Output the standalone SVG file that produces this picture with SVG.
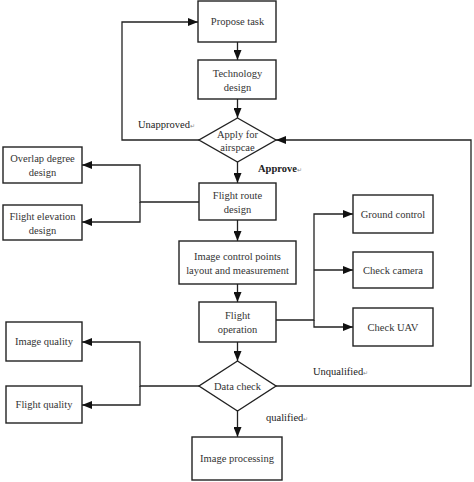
<svg xmlns="http://www.w3.org/2000/svg" width="474" height="482" viewBox="0 0 474 482">
<defs>
<marker id="ah" viewBox="0 0 10 8" refX="10" refY="4" markerWidth="10" markerHeight="8" markerUnits="userSpaceOnUse" orient="auto">
<path d="M0,0 L10,4 L0,8 Z" fill="#111"/>
</marker>
<style>
.box{fill:#fff;stroke:#222;stroke-width:1.4}
.t{font-family:"Liberation Serif","Times New Roman",serif;font-size:10.5px;fill:#333;text-anchor:middle}
.l{font-family:"Liberation Serif","Times New Roman",serif;font-size:10.5px;fill:#222}
.pm{font-size:6px;fill:#888}
.c{fill:none;stroke:#222;stroke-width:1.3}
</style>
</defs>
<rect width="474" height="482" fill="#fff"/>
<g id="connectors">
<path class="c" d="M237.5,42 V60" marker-end="url(#ah)"/>
<path class="c" d="M237.5,99 V118" marker-end="url(#ah)"/>
<path class="c" d="M199,140 H122 V22 H198" marker-end="url(#ah)"/>
<path class="c" d="M237.5,162 V183" marker-end="url(#ah)"/>
<path class="c" d="M199,202 H140 V165 H82" marker-end="url(#ah)"/>
<path class="c" d="M140,202 V222 H82" marker-end="url(#ah)"/>
<path class="c" d="M237.5,220 V241" marker-end="url(#ah)"/>
<path class="c" d="M237.5,284 V302" marker-end="url(#ah)"/>
<path class="c" d="M276,320 H314 V214 H353" marker-end="url(#ah)"/>
<path class="c" d="M314,270 H353" marker-end="url(#ah)"/>
<path class="c" d="M314,320 V327 H353" marker-end="url(#ah)"/>
<path class="c" d="M237.5,342 V361" marker-end="url(#ah)"/>
<path class="c" d="M276,386 H471 V140 H276" marker-end="url(#ah)"/>
<path class="c" d="M199,386 H140 V342 H82" marker-end="url(#ah)"/>
<path class="c" d="M140,386 V405 H82" marker-end="url(#ah)"/>
<path class="c" d="M237.5,411 V437" marker-end="url(#ah)"/>
<text class="l" x="138" y="128">Unapproved<tspan class="pm">↵</tspan></text>
<text class="l" x="258" y="172" font-weight="bold">Approve<tspan class="pm" font-weight="normal">↵</tspan></text>
<text class="l" x="313" y="375">Unqualified<tspan class="pm">↵</tspan></text>
<text class="l" x="266" y="421">qualified<tspan class="pm">↵</tspan></text>
</g>
<g id="propose"><rect class="box" x="198" y="1" width="78" height="41"/><text class="t" x="237.5" y="25">Propose task</text></g>
<g id="technology"><rect class="box" x="198" y="60" width="78" height="39"/><text class="t" x="237.5" y="77">Technology</text><text class="t" x="237.5" y="91">design</text></g>
<g id="apply"><polygon class="box" points="237.5,118 276,140 237.5,162 199,140"/><text class="t" x="237.5" y="138">Apply for</text><text class="t" x="237.5" y="151">airspcae</text></g>
<g id="overlap"><rect class="box" x="3" y="147" width="79" height="36"/><text class="t" x="42.5" y="162">Overlap degree</text><text class="t" x="42.5" y="176">design</text></g>
<g id="elevation"><rect class="box" x="3" y="205" width="79" height="35"/><text class="t" x="42.5" y="220">Flight elevation</text><text class="t" x="42.5" y="234">design</text></g>
<g id="route"><rect class="box" x="199" y="183" width="77" height="37"/><text class="t" x="237.5" y="199">Flight route</text><text class="t" x="237.5" y="213">design</text></g>
<g id="gcp"><rect class="box" x="179" y="241" width="117" height="43"/><text class="t" x="237.5" y="260">Image control points</text><text class="t" x="237.5" y="274">layout and measurement</text></g>
<g id="flightop"><rect class="box" x="199" y="302" width="77" height="40"/><text class="t" x="237.5" y="319">Flight</text><text class="t" x="237.5" y="333">operation</text></g>
<g id="ground"><rect class="box" x="353" y="195" width="80" height="38"/><text class="t" x="393" y="218">Ground control</text></g>
<g id="camera"><rect class="box" x="353" y="252" width="80" height="36"/><text class="t" x="393" y="274">Check camera</text></g>
<g id="uav"><rect class="box" x="353" y="308" width="80" height="38"/><text class="t" x="393" y="331">Check UAV</text></g>
<g id="datacheck"><polygon class="box" points="237.5,361 276,386 237.5,411 199,386"/><text class="t" x="237.5" y="390">Data check</text></g>
<g id="imgquality"><rect class="box" x="6" y="322" width="76" height="39"/><text class="t" x="44" y="345">Image quality</text></g>
<g id="fltquality"><rect class="box" x="6" y="386" width="76" height="37"/><text class="t" x="44" y="408">Flight quality</text></g>
<g id="processing"><rect class="box" x="192" y="437" width="90" height="43"/><text class="t" x="237" y="462">Image processing</text></g>
</svg>
